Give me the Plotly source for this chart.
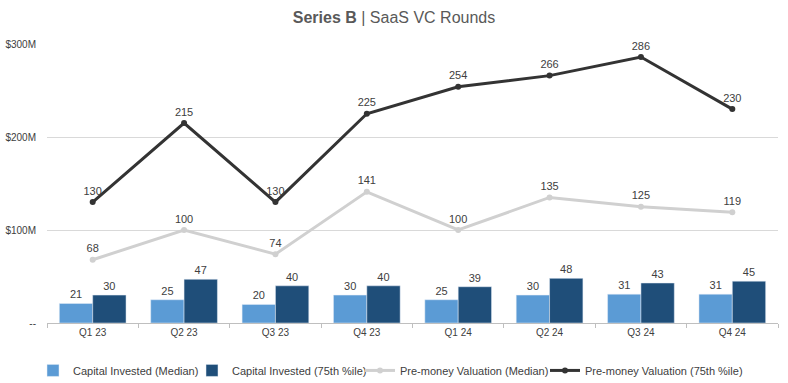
import plotly.graph_objects as go

quarters = ["Q1 23", "Q2 23", "Q3 23", "Q4 23", "Q1 24", "Q2 24", "Q3 24", "Q4 24"]
cap_median = [21, 25, 20, 30, 25, 30, 31, 31]
cap_75 = [30, 47, 40, 40, 39, 48, 43, 45]
val_median = [68, 100, 74, 141, 100, 135, 125, 119]
val_75 = [130, 215, 130, 225, 254, 266, 286, 230]

font_family = "Liberation Sans, Arial, sans-serif"
label_font = dict(family=font_family, size=11, color="#404040")

fig = go.Figure()
fig.add_trace(go.Bar(x=quarters, y=cap_median, name="Capital Invested (Median)",
                     marker_color="#5b9bd5", text=cap_median, textposition="outside",
                     textfont=label_font, cliponaxis=False, legend="legend"))
fig.add_trace(go.Bar(x=quarters, y=cap_75, name="Capital Invested (75th %ile)",
                     marker_color="#1f4e79", text=cap_75, textposition="outside",
                     textfont=label_font, cliponaxis=False, legend="legend2"))
fig.add_trace(go.Scatter(x=quarters, y=val_median, name="Pre-money Valuation (Median)",
                         mode="lines+markers+text", line=dict(color="#d0d0d0", width=3),
                         marker=dict(size=6, color="#d0d0d0"), text=val_median,
                         textposition="top center", textfont=label_font, cliponaxis=False,
                         legend="legend3"))
fig.add_trace(go.Scatter(x=quarters, y=val_75, name="Pre-money Valuation (75th %ile)",
                         mode="lines+markers+text", line=dict(color="#333333", width=3),
                         marker=dict(size=6, color="#333333"), text=val_75,
                         textposition="top center", textfont=label_font, cliponaxis=False,
                         legend="legend4"))

plot_l, plot_r = 47, 778
def px_to_paper(px):
    return (px - plot_l) / (plot_r - plot_l)

leg_font = dict(family=font_family, size=11, color="#404040")
def leg(text_start_px):
    return dict(orientation="h", x=px_to_paper(text_start_px - 40), xanchor="left",
                y=-0.17, yanchor="middle", font=leg_font, itemwidth=30,
                bgcolor="rgba(0,0,0,0)", borderwidth=0)

fig.update_layout(
    width=788, height=383,
    margin=dict(l=plot_l, r=788 - plot_r, t=44, b=60, autoexpand=False),
    paper_bgcolor="white", plot_bgcolor="white",
    title=dict(text="<b>Series B</b> | SaaS VC Rounds", x=0.5, xanchor="center",
               y=0.955, yanchor="middle",
               font=dict(family=font_family, size=16, color="#595959")),
    barmode="group", bargap=0.27, bargroupgap=0,
    showlegend=True,
    legend=leg(73), legend2=leg(232), legend3=leg(400), legend4=leg(585),
    font=dict(family=font_family, color="#404040"),
)
fig.update_yaxes(range=[0, 300], tickvals=[0, 100, 200, 300],
                 ticktext=["--", "$100M", "$200M", "$300M"],
                 showgrid=True, gridcolor="#d9d9d9", gridwidth=1,
                 zeroline=False, showline=False, ticks="", ticklabelstandoff=10,
                 tickfont=dict(family=font_family, size=10, color="#404040"))
fig.update_xaxes(showline=True, linecolor="#bfbfbf", linewidth=1,
                 ticks="outside", tickson="boundaries", ticklen=4, tickcolor="#bfbfbf",
                 showgrid=False,
                 tickfont=dict(family=font_family, size=10, color="#404040"))

fig.write_html("out.html", config={"displayModeBar": False},
               post_script="document.body.style.margin='0';document.body.style.overflow='hidden';")
